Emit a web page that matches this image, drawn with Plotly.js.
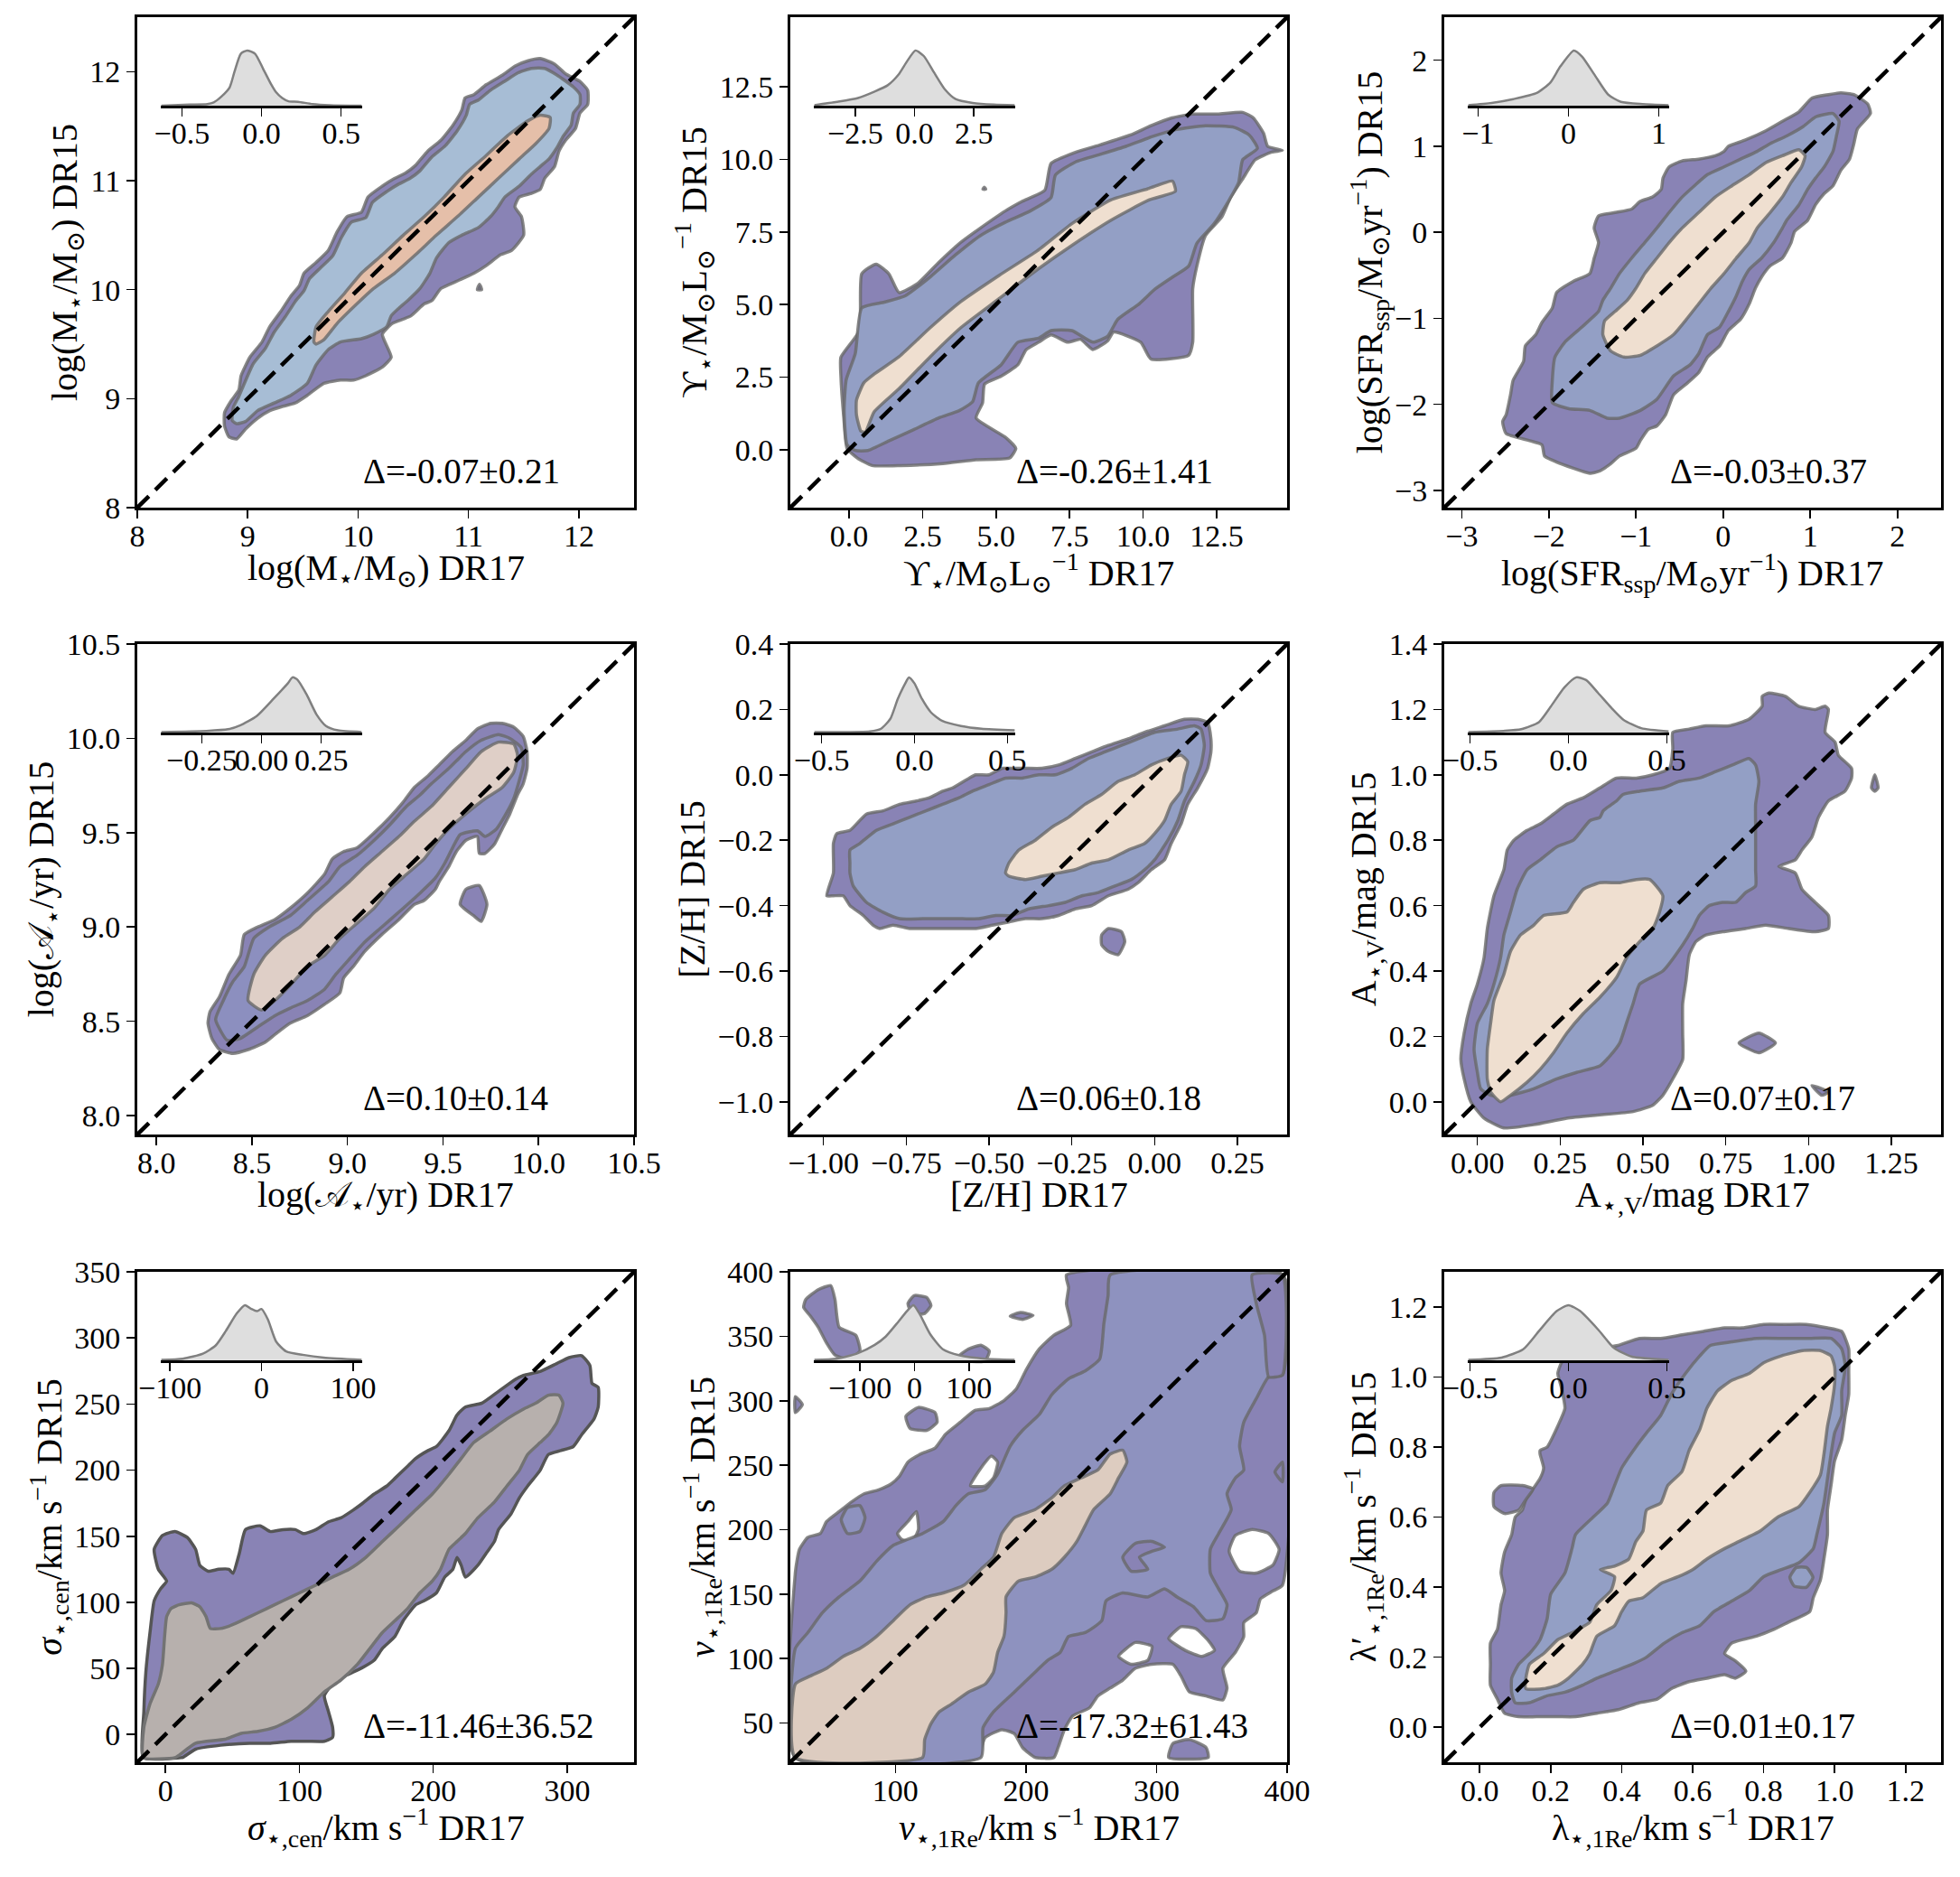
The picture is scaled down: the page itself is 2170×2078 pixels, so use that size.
<!DOCTYPE html>
<html>
<head>
<meta charset="utf-8">
<script src="https://cdn.plot.ly/plotly-3.0.1.min.js"></script>
<style>
  html, body { margin: 0; padding: 0; background: #ffffff; }
  #chart { width: 2170px; height: 2078px; }
</style>
</head>
<body>
<div id="chart"></div>
<script>
// DR15 vs DR17 comparison of nine Pipe3D quantities.
// Each panel: density contours (outer -> inner), 1:1 line, and an inset
// with the distribution of the DR15 - DR17 differences.

// ---------- mean and scatter of the differences ----------
const deltaMean = [-0.07, -0.26, -0.03, 0.10, 0.06, 0.07, -11.46, -17.32, 0.01];
const deltaStd  = [0.21, 1.41, 0.37, 0.14, 0.18, 0.17, 36.52, 61.43, 0.17];

// ---------- stellar mass ----------
const massOuter = [[8.79,8.75],[8.79,8.87],[8.85,8.98],[8.92,9.08],[8.94,9.21],[9.02,9.38],[9.13,9.52],[9.20,9.66],[9.30,9.80],[9.39,9.94],[9.47,10.04],[9.51,10.15],[9.62,10.25],[9.73,10.36],[9.81,10.53],[9.90,10.67],[10.03,10.71],[10.09,10.85],[10.22,10.95],[10.33,11.02],[10.43,11.07],[10.52,11.14],[10.63,11.27],[10.75,11.37],[10.86,11.51],[10.94,11.65],[10.97,11.76],[11.05,11.79],[11.16,11.88],[11.31,11.97],[11.42,12.05],[11.54,12.10],[11.65,12.12],[11.78,12.07],[11.88,11.98],[12.01,11.91],[12.08,11.83],[12.08,11.70],[12.01,11.62],[11.97,11.48],[11.88,11.37],[11.82,11.27],[11.78,11.13],[11.69,11.02],[11.65,10.92],[11.56,10.88],[11.46,10.85],[11.42,10.76],[11.48,10.67],[11.50,10.50],[11.39,10.36],[11.29,10.32],[11.16,10.22],[11.05,10.15],[10.90,10.08],[10.75,10.01],[10.67,9.90],[10.60,9.87],[10.48,9.76],[10.41,9.73],[10.31,9.69],[10.22,9.59],[10.30,9.38],[10.22,9.29],[10.07,9.21],[9.96,9.17],[9.84,9.17],[9.69,9.14],[9.54,9.03],[9.43,8.96],[9.32,8.93],[9.20,8.89],[9.09,8.82],[8.98,8.72],[8.90,8.63],[8.83,8.65]];
const massMiddle = [[8.86,8.80],[8.87,8.92],[8.92,9.02],[8.97,9.14],[9.05,9.32],[9.16,9.46],[9.24,9.61],[9.34,9.75],[9.43,9.89],[9.51,9.99],[9.56,10.10],[9.66,10.20],[9.77,10.31],[9.85,10.48],[9.94,10.62],[10.07,10.66],[10.13,10.80],[10.26,10.90],[10.37,10.97],[10.47,11.02],[10.56,11.09],[10.67,11.22],[10.79,11.32],[10.90,11.46],[10.98,11.60],[11.01,11.70],[11.09,11.74],[11.20,11.83],[11.34,11.92],[11.45,11.99],[11.57,12.03],[11.69,12.03],[11.80,11.97],[11.95,11.86],[12.01,11.79],[12.01,11.70],[11.95,11.62],[11.93,11.51],[11.86,11.41],[11.80,11.30],[11.73,11.20],[11.65,11.13],[11.57,11.06],[11.46,10.95],[11.33,10.85],[11.27,10.76],[11.20,10.67],[11.09,10.57],[10.94,10.50],[10.82,10.43],[10.71,10.29],[10.65,10.15],[10.56,10.01],[10.45,9.90],[10.37,9.83],[10.30,9.76],[10.26,9.66],[10.14,9.59],[10.03,9.55],[9.84,9.52],[9.73,9.45],[9.62,9.31],[9.54,9.14],[9.39,9.03],[9.24,8.96],[9.09,8.89],[8.98,8.79],[8.90,8.77]];
const massInner = [[9.60,9.52],[9.62,9.66],[9.73,9.80],[9.88,9.97],[10.03,10.15],[10.22,10.32],[10.41,10.50],[10.60,10.67],[10.78,10.85],[10.97,11.06],[11.16,11.23],[11.35,11.41],[11.54,11.55],[11.65,11.60],[11.74,11.58],[11.73,11.48],[11.61,11.34],[11.46,11.20],[11.27,11.02],[11.09,10.85],[10.90,10.67],[10.71,10.50],[10.52,10.32],[10.33,10.15],[10.14,10.01],[9.99,9.87],[9.81,9.69],[9.69,9.54],[9.62,9.50]];
const massIsland = [[11.08,10.00],[11.10,10.05],[11.12,10.00]];
const massKde = [[-0.63,0],[-0.45,0.02],[-0.34,0.03],[-0.30,0.06],[-0.25,0.17],[-0.20,0.33],[-0.17,0.61],[-0.13,0.94],[-0.09,1.0],[-0.04,0.94],[0.01,0.67],[0.06,0.39],[0.09,0.25],[0.13,0.14],[0.17,0.08],[0.23,0.07],[0.32,0.03],[0.43,0.01],[0.63,0]];

// ---------- mass-to-light ratio ----------
const mlOuter = [[-0.28,3.18],[0.35,4.10],[0.43,6.06],[0.92,6.39],[1.35,6.06],[1.70,5.41],[2.34,5.73],[3.05,6.45],[3.76,7.11],[4.46,7.63],[5.31,8.22],[5.88,8.55],[6.66,8.94],[6.87,9.86],[7.72,10.25],[8.57,10.51],[9.57,10.84],[10.27,11.16],[10.98,11.43],[11.69,11.56],[12.54,11.56],[13.39,11.62],[13.75,11.43],[14.10,10.90],[14.24,10.45],[14.74,10.31],[14.38,10.25],[13.82,9.99],[13.39,9.33],[12.97,8.68],[12.68,8.02],[12.12,7.37],[11.83,6.32],[11.69,5.54],[11.69,3.70],[11.55,3.25],[10.27,3.12],[9.92,3.70],[9.00,4.05],[8.80,3.75],[8.29,3.45],[7.87,3.80],[7.44,3.70],[6.87,3.95],[6.45,3.70],[6.02,3.44],[5.74,2.92],[5.17,2.53],[4.61,2.26],[4.54,1.61],[4.32,1.09],[5.31,0.43],[5.67,0.04],[5.46,-0.29],[4.32,-0.35],[3.19,-0.48],[1.77,-0.55],[0.78,-0.55],[0.28,-0.29],[-0.07,0.04],[-0.18,1.09],[-0.28,2.53]];
const mlMiddle = [[-0.07,0.17],[-0.17,1.35],[-0.10,2.40],[0.21,3.31],[0.43,4.88],[1.20,5.08],[1.91,5.30],[2.76,5.95],[3.61,6.70],[4.46,7.37],[5.31,7.83],[6.16,8.22],[6.87,8.68],[7.02,9.46],[7.72,9.92],[8.57,10.18],[9.42,10.45],[10.27,10.77],[11.13,11.03],[12.12,11.16],[13.11,11.10],[13.61,10.84],[13.89,10.38],[13.39,9.99],[13.25,9.20],[12.90,8.55],[12.40,7.76],[11.83,7.11],[11.55,6.32],[10.98,5.93],[10.42,5.54],[9.85,5.01],[9.14,4.49],[8.79,3.90],[8.29,3.70],[7.58,4.10],[6.87,4.10],[6.45,3.84],[5.74,3.70],[5.17,2.92],[4.40,2.30],[4.20,1.65],[3.76,1.35],[3.05,1.09],[2.20,0.69],[1.35,0.30],[0.64,-0.03],[0.21,-0.03]];
const mlInner = [[0.40,0.64],[0.25,1.20],[0.25,1.70],[0.50,2.30],[0.85,2.60],[1.70,3.20],[2.76,4.20],[3.80,5.10],[5.10,6.00],[6.40,6.85],[7.60,7.80],[8.90,8.60],[10.20,9.00],[11.00,9.25],[11.10,8.90],[10.20,8.60],[8.90,7.90],[7.60,7.05],[6.40,6.20],[5.10,5.20],[3.80,4.20],[2.76,3.20],[1.70,2.10],[0.85,1.30],[0.55,0.60]];
const mlIsland = [[4.55,8.97],[4.60,9.04],[4.65,8.97]];
const mlKde = [[-4.23,0.01],[-3.27,0.07],[-2.38,0.14],[-1.66,0.26],[-1.13,0.37],[-0.68,0.56],[-0.32,0.80],[0.04,1.0],[0.39,0.90],[0.84,0.59],[1.29,0.29],[1.73,0.12],[2.45,0.05],[3.34,0.02],[4.23,0.01]];

// ---------- star formation rate ----------
const sfrOuter = [[-1.53,-2.80],[-1.91,-2.67],[-2.05,-2.60],[-2.08,-2.47],[-2.49,-2.34],[-2.53,-2.20],[-2.49,-2.12],[-2.44,-1.89],[-2.41,-1.72],[-2.29,-1.50],[-2.27,-1.32],[-2.15,-1.19],[-2.08,-1.05],[-1.96,-0.88],[-1.91,-0.70],[-1.72,-0.57],[-1.53,-0.48],[-1.48,-0.30],[-1.43,-0.12],[-1.48,0.05],[-1.43,0.19],[-1.24,0.23],[-1.05,0.27],[-0.95,0.36],[-0.81,0.41],[-0.71,0.50],[-0.69,0.63],[-0.62,0.76],[-0.47,0.83],[-0.28,0.85],[-0.09,0.89],[0.01,0.94],[0.06,1.00],[0.25,1.07],[0.49,1.18],[0.68,1.29],[0.87,1.40],[1.02,1.56],[1.21,1.60],[1.35,1.62],[1.50,1.60],[1.66,1.49],[1.69,1.38],[1.54,1.20],[1.50,1.03],[1.45,0.85],[1.35,0.72],[1.26,0.54],[1.16,0.45],[1.06,0.32],[0.97,0.14],[0.82,0.01],[0.78,-0.12],[0.68,-0.30],[0.54,-0.39],[0.44,-0.52],[0.37,-0.65],[0.30,-0.83],[0.20,-1.01],[0.06,-1.14],[-0.04,-1.32],[-0.18,-1.45],[-0.28,-1.63],[-0.42,-1.76],[-0.57,-1.89],[-0.66,-2.12],[-0.76,-2.25],[-0.86,-2.29],[-0.95,-2.42],[-1.00,-2.51],[-1.19,-2.60],[-1.29,-2.69],[-1.43,-2.78]];
const sfrMiddle = [[-1.96,-1.98],[-1.96,-1.72],[-1.93,-1.45],[-1.81,-1.27],[-1.62,-1.10],[-1.43,-0.92],[-1.38,-0.79],[-1.29,-0.65],[-1.19,-0.48],[-1.05,-0.30],[-0.90,-0.12],[-0.76,0.05],[-0.62,0.23],[-0.47,0.41],[-0.33,0.54],[-0.18,0.67],[0.01,0.76],[0.20,0.85],[0.39,0.94],[0.54,1.03],[0.73,1.12],[0.92,1.23],[1.06,1.34],[1.26,1.38],[1.33,1.29],[1.30,1.12],[1.26,0.94],[1.16,0.76],[1.06,0.63],[0.97,0.50],[0.87,0.32],[0.73,0.14],[0.68,0.05],[0.58,-0.12],[0.44,-0.30],[0.30,-0.43],[0.22,-0.57],[0.15,-0.74],[0.06,-0.92],[-0.04,-1.10],[-0.18,-1.19],[-0.28,-1.41],[-0.38,-1.54],[-0.57,-1.67],[-0.76,-1.94],[-0.95,-2.07],[-1.19,-2.16],[-1.33,-2.16],[-1.53,-2.07],[-1.77,-2.05]];
const sfrInner = [[-1.38,-1.19],[-1.36,-1.03],[-1.24,-0.92],[-1.10,-0.79],[-1.00,-0.65],[-0.90,-0.48],[-0.76,-0.30],[-0.62,-0.12],[-0.47,0.05],[-0.28,0.23],[-0.09,0.41],[0.10,0.54],[0.30,0.67],[0.49,0.81],[0.68,0.89],[0.87,0.96],[0.94,0.89],[0.90,0.76],[0.78,0.58],[0.68,0.41],[0.54,0.23],[0.39,0.05],[0.30,-0.12],[0.15,-0.30],[0.01,-0.48],[-0.14,-0.65],[-0.28,-0.83],[-0.42,-1.01],[-0.57,-1.19],[-0.76,-1.32],[-0.95,-1.43],[-1.14,-1.45],[-1.29,-1.38]];
const sfrKde = [[-1.11,0.01],[-0.85,0.05],[-0.61,0.12],[-0.35,0.23],[-0.20,0.42],[-0.09,0.71],[0.06,1.0],[0.15,0.89],[0.30,0.53],[0.44,0.20],[0.58,0.07],[0.82,0.03],[1.11,0.01]];

// ---------- luminosity-weighted age ----------
const ageOuter = [[8.27,8.49],[8.28,8.55],[8.33,8.63],[8.38,8.75],[8.44,8.85],[8.46,8.96],[8.53,9.00],[8.62,9.04],[8.70,9.10],[8.79,9.18],[8.88,9.28],[8.92,9.36],[8.98,9.40],[9.05,9.42],[9.14,9.50],[9.22,9.58],[9.29,9.66],[9.35,9.74],[9.42,9.80],[9.48,9.86],[9.55,9.93],[9.62,9.99],[9.68,10.05],[9.75,10.08],[9.81,10.08],[9.87,10.06],[9.92,10.01],[9.94,9.93],[9.94,9.84],[9.92,9.76],[9.89,9.70],[9.85,9.60],[9.81,9.52],[9.77,9.44],[9.72,9.39],[9.69,9.39],[9.68,9.48],[9.62,9.46],[9.57,9.40],[9.53,9.32],[9.48,9.24],[9.46,9.20],[9.40,9.14],[9.35,9.12],[9.27,9.04],[9.18,8.96],[9.09,8.87],[9.03,8.79],[8.98,8.73],[8.96,8.65],[8.88,8.59],[8.79,8.53],[8.70,8.49],[8.62,8.43],[8.57,8.39],[8.48,8.35],[8.40,8.33],[8.33,8.35],[8.29,8.41]];
const ageMiddle = [[8.31,8.51],[8.35,8.61],[8.40,8.71],[8.46,8.79],[8.51,8.94],[8.59,9.00],[8.70,9.06],[8.79,9.14],[8.90,9.24],[8.96,9.32],[9.05,9.38],[9.14,9.46],[9.22,9.54],[9.31,9.64],[9.38,9.70],[9.44,9.76],[9.53,9.84],[9.62,9.93],[9.70,9.99],[9.79,10.02],[9.85,10.00],[9.91,9.95],[9.92,9.86],[9.90,9.78],[9.87,9.68],[9.83,9.60],[9.78,9.52],[9.72,9.48],[9.68,9.51],[9.59,9.49],[9.55,9.42],[9.51,9.34],[9.46,9.26],[9.38,9.18],[9.27,9.08],[9.18,9.00],[9.09,8.92],[9.01,8.83],[8.94,8.75],[8.88,8.67],[8.79,8.61],[8.70,8.57],[8.62,8.53],[8.53,8.47],[8.44,8.41],[8.37,8.40]];
const ageInner = [[8.48,8.61],[8.51,8.75],[8.57,8.85],[8.66,8.94],[8.75,9.00],[8.83,9.08],[8.92,9.16],[9.01,9.24],[9.09,9.32],[9.18,9.40],[9.27,9.48],[9.35,9.56],[9.44,9.64],[9.53,9.74],[9.62,9.84],[9.70,9.93],[9.79,9.98],[9.87,9.97],[9.89,9.91],[9.87,9.82],[9.81,9.74],[9.72,9.68],[9.62,9.60],[9.53,9.52],[9.46,9.44],[9.40,9.36],[9.31,9.28],[9.22,9.20],[9.14,9.10],[9.05,9.02],[8.96,8.94],[8.88,8.85],[8.79,8.79],[8.70,8.69],[8.62,8.61],[8.55,8.56]];
const ageIsland = [[9.59,9.12],[9.62,9.20],[9.69,9.22],[9.73,9.12],[9.70,9.03],[9.66,9.06]];
const ageKde = [[-0.42,0.01],[-0.23,0.03],[-0.14,0.06],[-0.09,0.13],[-0.02,0.30],[0.05,0.61],[0.11,0.89],[0.13,1.0],[0.15,0.96],[0.19,0.68],[0.23,0.33],[0.27,0.12],[0.32,0.04],[0.42,0.01]];

// ---------- metallicity ----------
const zhOuter = [[-0.99,-0.37],[-0.97,-0.30],[-0.97,-0.21],[-0.96,-0.18],[-0.92,-0.17],[-0.87,-0.12],[-0.82,-0.11],[-0.77,-0.09],[-0.72,-0.08],[-0.68,-0.07],[-0.64,-0.05],[-0.61,-0.04],[-0.56,-0.01],[-0.54,0.00],[-0.50,0.00],[-0.46,0.02],[-0.43,0.02],[-0.39,0.02],[-0.34,0.02],[-0.29,0.03],[-0.24,0.05],[-0.19,0.07],[-0.14,0.09],[-0.08,0.11],[-0.03,0.13],[0.03,0.15],[0.09,0.17],[0.13,0.17],[0.16,0.16],[0.17,0.11],[0.17,0.07],[0.16,0.02],[0.13,-0.04],[0.10,-0.09],[0.08,-0.15],[0.05,-0.21],[0.03,-0.26],[-0.01,-0.29],[-0.05,-0.33],[-0.08,-0.35],[-0.14,-0.37],[-0.19,-0.40],[-0.24,-0.41],[-0.29,-0.43],[-0.34,-0.44],[-0.39,-0.44],[-0.44,-0.45],[-0.49,-0.46],[-0.54,-0.47],[-0.59,-0.47],[-0.64,-0.47],[-0.69,-0.47],[-0.74,-0.47],[-0.79,-0.46],[-0.83,-0.47],[-0.85,-0.46],[-0.88,-0.43],[-0.92,-0.40],[-0.94,-0.37],[-0.97,-0.37]];
const zhMiddle = [[-0.92,-0.27],[-0.92,-0.23],[-0.89,-0.21],[-0.84,-0.17],[-0.79,-0.15],[-0.74,-0.13],[-0.69,-0.11],[-0.64,-0.09],[-0.59,-0.07],[-0.55,-0.05],[-0.50,-0.03],[-0.45,-0.01],[-0.40,-0.01],[-0.35,0.00],[-0.30,0.00],[-0.25,0.02],[-0.20,0.05],[-0.15,0.07],[-0.10,0.09],[-0.05,0.11],[0.00,0.13],[0.07,0.14],[0.12,0.15],[0.14,0.14],[0.15,0.09],[0.14,0.03],[0.12,-0.02],[0.09,-0.08],[0.07,-0.14],[0.04,-0.20],[0.00,-0.26],[-0.03,-0.29],[-0.07,-0.32],[-0.12,-0.34],[-0.17,-0.36],[-0.22,-0.37],[-0.27,-0.39],[-0.32,-0.40],[-0.38,-0.41],[-0.43,-0.43],[-0.48,-0.43],[-0.53,-0.44],[-0.58,-0.44],[-0.64,-0.44],[-0.70,-0.44],[-0.77,-0.44],[-0.82,-0.42],[-0.87,-0.39],[-0.91,-0.34],[-0.92,-0.30]];
const zhInner = [[-0.45,-0.30],[-0.44,-0.27],[-0.41,-0.23],[-0.36,-0.20],[-0.31,-0.16],[-0.26,-0.13],[-0.21,-0.09],[-0.16,-0.06],[-0.11,-0.02],[-0.06,0.00],[-0.01,0.03],[0.04,0.05],[0.08,0.06],[0.10,0.04],[0.09,0.00],[0.08,-0.05],[0.05,-0.09],[0.03,-0.14],[0.00,-0.18],[-0.03,-0.21],[-0.08,-0.23],[-0.14,-0.26],[-0.19,-0.27],[-0.24,-0.29],[-0.29,-0.30],[-0.34,-0.31],[-0.39,-0.32],[-0.44,-0.31]];
const zhIsland = [[-0.16,-0.49],[-0.14,-0.47],[-0.10,-0.48],[-0.09,-0.51],[-0.11,-0.55],[-0.14,-0.54],[-0.16,-0.52]];
const zhKde = [[-0.54,0.01],[-0.24,0.02],[-0.18,0.07],[-0.13,0.25],[-0.09,0.61],[-0.05,0.89],[-0.03,1.0],[0.00,0.89],[0.04,0.61],[0.09,0.36],[0.15,0.21],[0.25,0.12],[0.36,0.07],[0.54,0.04]];

// ---------- dust attenuation ----------
const avOuter = [[-0.04,0.07],[-0.05,0.13],[-0.04,0.21],[-0.02,0.30],[0.00,0.36],[0.02,0.44],[0.03,0.53],[0.05,0.63],[0.08,0.71],[0.09,0.77],[0.11,0.80],[0.15,0.83],[0.19,0.85],[0.23,0.88],[0.27,0.91],[0.32,0.93],[0.37,0.96],[0.42,0.99],[0.48,0.99],[0.53,1.00],[0.58,1.02],[0.59,1.08],[0.59,1.13],[0.64,1.14],[0.69,1.15],[0.76,1.15],[0.82,1.17],[0.86,1.21],[0.86,1.24],[0.88,1.25],[0.93,1.24],[0.97,1.21],[1.02,1.20],[1.05,1.21],[1.06,1.20],[1.05,1.13],[1.08,1.10],[1.09,1.06],[1.13,1.02],[1.13,0.99],[1.11,0.95],[1.06,0.92],[1.03,0.87],[1.01,0.81],[0.98,0.77],[0.96,0.74],[0.91,0.72],[0.96,0.70],[0.98,0.65],[1.02,0.61],[1.06,0.57],[1.06,0.53],[1.02,0.52],[0.94,0.53],[0.87,0.54],[0.81,0.53],[0.74,0.52],[0.69,0.51],[0.66,0.49],[0.64,0.45],[0.63,0.37],[0.62,0.30],[0.62,0.21],[0.62,0.13],[0.59,0.07],[0.56,0.02],[0.53,-0.01],[0.47,-0.03],[0.37,-0.04],[0.27,-0.05],[0.17,-0.07],[0.08,-0.08],[0.02,-0.05],[-0.02,0.00]];
const avMiddle = [[0.00,0.09],[-0.01,0.16],[0.00,0.24],[0.03,0.30],[0.05,0.36],[0.07,0.44],[0.08,0.51],[0.10,0.58],[0.12,0.65],[0.15,0.71],[0.19,0.74],[0.24,0.78],[0.29,0.80],[0.34,0.86],[0.37,0.87],[0.38,0.89],[0.42,0.92],[0.44,0.94],[0.49,0.95],[0.56,0.96],[0.61,0.98],[0.67,0.99],[0.72,1.01],[0.77,1.03],[0.82,1.05],[0.84,1.03],[0.85,0.98],[0.84,0.91],[0.84,0.84],[0.84,0.77],[0.84,0.71],[0.84,0.66],[0.81,0.64],[0.78,0.61],[0.74,0.61],[0.70,0.60],[0.67,0.57],[0.65,0.53],[0.62,0.48],[0.56,0.40],[0.49,0.36],[0.47,0.30],[0.45,0.24],[0.43,0.18],[0.40,0.14],[0.37,0.11],[0.30,0.09],[0.24,0.07],[0.17,0.04],[0.10,0.02],[0.04,0.02],[0.01,0.04]];
const avInner = [[0.04,0.03],[0.03,0.07],[0.03,0.16],[0.04,0.24],[0.05,0.31],[0.08,0.39],[0.10,0.46],[0.13,0.51],[0.17,0.54],[0.20,0.57],[0.27,0.58],[0.29,0.61],[0.32,0.65],[0.37,0.67],[0.43,0.67],[0.48,0.68],[0.52,0.68],[0.54,0.66],[0.56,0.63],[0.55,0.58],[0.53,0.53],[0.49,0.49],[0.45,0.44],[0.42,0.38],[0.37,0.32],[0.32,0.27],[0.27,0.21],[0.23,0.15],[0.19,0.10],[0.15,0.06],[0.10,0.02],[0.07,0.00]];
const avIslandA = [[0.79,0.18],[0.85,0.21],[0.90,0.18],[0.85,0.15]];
const avIslandB = [[1.01,0.05],[1.06,0.03],[1.04,0.02]];
const avIslandC = [[1.19,0.96],[1.20,1.00],[1.21,0.96],[1.20,0.95]];
const avKde = [[-0.51,0.01],[-0.33,0.03],[-0.24,0.06],[-0.15,0.19],[-0.09,0.47],[-0.02,0.82],[0.04,1.0],[0.09,0.95],[0.15,0.72],[0.22,0.44],[0.28,0.23],[0.37,0.08],[0.51,0.02]];

// ---------- central velocity dispersion ----------
const sigOuter = [[-16.5,-17.5],[-16.1,17.3],[-14.6,47.3],[-11.5,77.2],[-8.4,101.1],[-3.7,110.1],[0.9,116.1],[-5.3,125.0],[-8.4,140.0],[-2.2,150.5],[7.1,153.5],[16.4,149.0],[22.6,140.0],[25.7,128.0],[31.9,123.5],[39.7,125.0],[47.4,125.0],[50.5,122.0],[55.2,137.0],[59.8,155.0],[70.7,157.9],[78.4,153.5],[87.7,155.0],[97.0,155.0],[103.2,152.0],[112.5,155.0],[121.8,160.9],[131.1,163.9],[140.4,169.9],[146.6,174.4],[155.9,181.9],[165.2,187.9],[171.4,193.8],[180.7,202.8],[186.9,208.8],[196.2,214.8],[202.4,217.8],[211.7,229.7],[217.8,241.7],[224.0,247.7],[236.4,250.7],[248.8,259.6],[261.2,268.6],[267.4,271.6],[279.8,274.6],[292.2,280.6],[301.5,285.1],[310.8,286.6],[317.0,279.1],[318.6,265.6],[323.2,262.6],[323.2,247.7],[320.1,238.7],[310.8,226.7],[304.6,217.8],[295.3,214.8],[286.0,211.8],[279.8,199.8],[270.5,187.9],[264.3,178.9],[258.1,166.9],[248.8,155.0],[245.7,146.0],[239.5,137.0],[233.3,128.0],[224.0,119.1],[220.9,128.0],[217.8,134.0],[214.7,125.0],[208.6,119.1],[202.4,107.1],[193.1,101.1],[186.9,98.1],[177.6,86.1],[171.4,74.2],[162.1,65.2],[155.9,56.2],[146.6,50.3],[134.2,44.3],[124.9,38.3],[118.7,29.3],[121.8,17.3],[124.9,5.4],[124.9,-2.1],[118.7,-5.1],[106.3,-5.1],[93.9,-5.1],[78.4,-6.6],[62.9,-6.6],[41.2,-8.1],[22.6,-11.1],[13.3,-17.1],[11.8,-17.5]];
const sigInner = [[-16.1,5.4],[-11.5,23.3],[-5.3,38.3],[-2.2,53.2],[-0.6,74.2],[0.9,89.1],[4.0,95.1],[10.2,98.1],[19.5,99.6],[25.7,96.6],[30.4,89.1],[33.5,80.2],[41.2,80.2],[50.5,83.2],[62.9,89.1],[75.3,95.1],[87.7,101.1],[100.1,107.1],[112.5,113.1],[124.9,119.1],[137.3,125.0],[149.7,134.0],[162.1,146.0],[174.5,157.9],[186.9,169.9],[199.3,181.9],[211.7,196.8],[220.9,208.8],[230.2,220.8],[242.6,229.7],[255.0,238.7],[267.4,246.2],[276.7,250.7],[286.0,256.7],[293.8,256.7],[296.9,250.7],[292.2,235.7],[286.0,226.7],[279.8,220.8],[270.5,211.8],[264.3,199.8],[255.0,187.9],[245.7,175.9],[233.3,163.9],[224.0,152.0],[217.8,146.0],[211.7,140.0],[205.5,125.0],[199.3,116.1],[190.0,107.1],[180.7,95.1],[171.4,86.1],[162.1,77.2],[152.8,65.2],[143.5,53.2],[131.1,41.3],[118.7,32.3],[106.3,20.3],[93.9,11.4],[81.5,5.4],[69.1,2.4],[56.7,0.9],[44.3,-3.6],[22.6,-6.6],[10.2,-15.6],[7.1,-17.5],[-16.5,-17.5]];
const sigKde = [[-109.6,0.01],[-86,0.03],[-64,0.12],[-50,0.27],[-39,0.53],[-27,0.85],[-18,1.0],[-11,0.93],[-5,0.89],[0,0.93],[7,0.74],[16,0.34],[27,0.16],[45,0.10],[68,0.05],[109.6,0.01]];

// ---------- rotation velocity at 1 Re ----------
const velOuter = [[231.0,397.6],[396.5,397.6],[396.5,157.0],[389.1,152.4],[379.6,146.3],[376.4,135.5],[366.8,127.8],[366.8,117.1],[360.4,104.8],[350.8,92.4],[354.0,77.1],[350.8,67.8],[338.0,70.9],[325.2,74.0],[318.8,86.3],[312.5,95.5],[296.5,95.5],[283.7,92.4],[274.1,83.2],[264.5,77.1],[255.0,70.9],[248.6,61.7],[235.8,55.5],[229.4,44.8],[224.6,30.9],[221.4,23.2],[207.0,23.2],[197.4,30.9],[191.1,41.7],[181.5,44.8],[168.7,38.6],[162.3,23.2],[23.3,23.2],[23.3,166.3],[26.5,184.7],[32.9,194.0],[42.5,197.0],[47.3,206.3],[56.9,214.0],[66.5,221.6],[76.0,227.8],[87.2,230.9],[96.8,235.5],[103.2,241.6],[109.6,252.4],[119.2,258.6],[130.4,263.2],[138.3,273.9],[149.5,283.2],[160.7,292.4],[171.9,293.9],[183.1,300.1],[192.7,309.3],[200.6,324.7],[210.2,340.1],[221.4,350.8],[234.2,358.5],[231.0,375.4],[232.6,387.7]];
const velBlobA = [[29.7,372.4],[31.3,378.5],[40.9,386.2],[50.5,389.3],[53.7,378.5],[56.9,357.0],[69.6,350.8],[72.8,338.5],[63.3,332.4],[53.7,335.4],[47.3,344.7],[40.9,357.0],[34.5,366.2]];
const velBlobB = [[109.6,375.4],[114.4,381.6],[124.0,380.1],[127.2,373.9],[122.4,367.7],[112.8,367.7]];
const velBlobC = [[147.9,333.9],[155.9,340.1],[165.5,343.1],[171.9,338.5],[168.7,330.8],[155.9,330.8]];
const velBlobD = [[187.9,365.6],[195.8,368.4],[205.4,366.2],[197.4,363.1]];
const velBlobE = [[108.0,287.8],[117.6,294.8],[130.4,290.8],[131.9,283.2],[124.0,277.0],[111.2,278.5]];
const velBlobF = [[23.3,303.2],[28.7,297.0],[23.3,290.8]];
const velBlobG = [[309.3,23.2],[312.5,34.0],[325.2,37.1],[338.0,30.9],[339.6,23.2]];
const velBlobH = [[396.5,252.4],[390.7,244.7],[396.5,237.0]];
const velHoleA = [[157.5,234.0],[165.5,247.8],[173.5,257.0],[178.3,252.4],[175.1,240.1],[168.7,233.9]];
const velHoleB = [[101.6,197.0],[109.6,206.3],[116.0,214.0],[117.6,200.1],[112.8,190.9],[104.8,192.4]];
const velHoleC = [[309.3,115.5],[318.8,124.7],[330.0,123.2],[339.6,114.0],[344.4,106.3],[334.8,101.7],[322.0,106.3]];
const velHoleD = [[355.6,183.2],[360.4,195.5],[373.2,200.1],[385.9,197.0],[393.9,184.7],[389.1,172.4],[376.4,166.3],[363.6,167.8]];
const velHoleE = [[270.9,101.7],[283.7,112.4],[296.5,109.4],[293.3,98.6],[280.5,95.5]];
const velMiddle = [[23.3,107.8],[32.9,120.1],[44.1,135.5],[56.9,147.8],[72.8,160.1],[85.6,175.5],[98.4,187.8],[120.8,197.0],[136.7,206.3],[146.3,218.6],[155.9,227.8],[168.7,230.9],[178.3,243.2],[187.9,264.7],[197.4,277.0],[210.2,289.3],[219.8,304.7],[232.6,317.0],[245.4,323.1],[256.5,332.4],[259.7,360.1],[262.9,381.6],[264.5,397.6],[396.5,397.6],[396.5,320.1],[385.9,318.5],[376.4,301.6],[366.8,283.2],[363.6,264.7],[366.8,246.2],[360.4,240.1],[354.0,227.8],[357.2,215.5],[347.6,197.0],[341.2,184.7],[341.2,166.3],[347.6,154.0],[354.0,141.7],[350.8,130.9],[338.0,129.4],[328.4,140.1],[315.7,147.8],[306.1,154.0],[293.3,147.8],[274.1,150.9],[261.3,144.7],[258.1,129.4],[245.4,120.1],[232.6,117.1],[226.2,104.8],[216.6,98.6],[207.0,89.4],[191.1,74.0],[175.1,58.6],[167.1,46.3],[165.5,23.2],[23.3,23.2]];
const velRing = [[58.5,207.8],[63.3,217.0],[72.8,218.6],[76.7,209.3],[72.8,198.6],[63.3,197.0]];
const velCrescent = [[274.1,178.6],[283.7,189.3],[296.5,190.9],[306.1,186.3],[296.5,183.2],[286.9,178.6],[293.3,169.3],[280.5,167.8]];
const velCorner = [[373.2,397.6],[396.5,397.6],[396.5,320.1],[385.9,318.5],[382.7,350.8],[376.4,375.4]];
const velInner = [[23.3,80.1],[34.5,86.3],[47.3,92.4],[60.1,101.7],[72.8,107.8],[85.6,117.1],[98.4,129.4],[111.2,141.7],[124.0,147.8],[136.7,150.9],[152.7,157.0],[165.5,169.3],[175.1,178.6],[181.5,197.0],[191.1,209.3],[207.0,215.5],[219.8,224.7],[229.4,233.9],[242.2,240.1],[255.0,246.2],[264.5,258.6],[274.1,261.6],[277.3,252.4],[270.9,240.1],[264.5,227.8],[251.8,215.5],[245.4,203.2],[239.0,190.9],[229.4,178.6],[219.8,169.3],[207.0,163.2],[194.2,160.1],[184.7,147.8],[184.7,135.5],[183.1,117.1],[178.3,104.8],[175.1,89.4],[168.7,80.1],[155.9,74.0],[143.1,64.8],[133.5,58.6],[127.2,49.4],[122.4,37.1],[120.8,23.2],[23.3,23.2]];
const velKde = [[-184.3,0.01],[-143,0.03],[-104,0.13],[-73,0.28],[-53,0.43],[-33,0.66],[-14,0.89],[-2,1.0],[9,0.85],[29,0.47],[52,0.20],[83,0.09],[129,0.03],[184.3,0.01]];

// ---------- spin parameter at 1 Re ----------
const lamOuter = [[0.07,0.04],[0.05,0.08],[0.03,0.12],[0.03,0.18],[0.03,0.24],[0.05,0.28],[0.06,0.35],[0.07,0.39],[0.06,0.44],[0.07,0.50],[0.09,0.55],[0.10,0.60],[0.12,0.62],[0.13,0.65],[0.17,0.71],[0.18,0.74],[0.17,0.78],[0.17,0.79],[0.19,0.80],[0.22,0.86],[0.24,0.91],[0.23,0.97],[0.22,1.01],[0.23,1.04],[0.25,1.06],[0.27,1.07],[0.33,1.08],[0.39,1.09],[0.45,1.11],[0.51,1.11],[0.57,1.12],[0.63,1.13],[0.69,1.14],[0.74,1.14],[0.80,1.15],[0.86,1.15],[0.92,1.15],[0.98,1.14],[1.02,1.13],[1.04,1.08],[1.04,1.02],[1.04,0.95],[1.03,0.89],[1.02,0.82],[1.00,0.76],[0.99,0.69],[0.98,0.62],[0.98,0.55],[0.97,0.48],[0.96,0.42],[0.94,0.37],[0.93,0.33],[0.87,0.30],[0.83,0.28],[0.78,0.26],[0.71,0.24],[0.69,0.21],[0.72,0.19],[0.75,0.16],[0.72,0.14],[0.69,0.15],[0.64,0.14],[0.59,0.13],[0.54,0.11],[0.50,0.08],[0.45,0.07],[0.39,0.05],[0.33,0.04],[0.27,0.03],[0.22,0.03],[0.16,0.03],[0.11,0.03]];
const lamMiddle = [[0.10,0.07],[0.09,0.10],[0.09,0.14],[0.11,0.18],[0.14,0.21],[0.17,0.25],[0.19,0.31],[0.20,0.38],[0.24,0.44],[0.26,0.51],[0.27,0.55],[0.32,0.60],[0.36,0.64],[0.38,0.69],[0.40,0.74],[0.44,0.80],[0.47,0.84],[0.51,0.89],[0.54,0.95],[0.58,1.01],[0.62,1.06],[0.65,1.09],[0.71,1.10],[0.78,1.11],[0.86,1.11],[0.93,1.11],[0.99,1.11],[1.02,1.08],[1.03,1.03],[1.02,0.96],[1.02,0.89],[1.00,0.84],[0.99,0.78],[0.98,0.71],[0.97,0.64],[0.95,0.55],[0.94,0.51],[0.90,0.47],[0.85,0.45],[0.80,0.43],[0.76,0.39],[0.71,0.36],[0.66,0.33],[0.62,0.29],[0.57,0.27],[0.52,0.24],[0.47,0.20],[0.43,0.18],[0.38,0.16],[0.33,0.14],[0.29,0.12],[0.24,0.10],[0.19,0.09],[0.14,0.07]];
const lamInner = [[0.13,0.11],[0.13,0.14],[0.14,0.18],[0.18,0.21],[0.22,0.25],[0.26,0.27],[0.31,0.30],[0.33,0.35],[0.37,0.39],[0.38,0.43],[0.34,0.45],[0.38,0.46],[0.42,0.48],[0.44,0.53],[0.46,0.56],[0.47,0.62],[0.51,0.64],[0.53,0.69],[0.57,0.73],[0.59,0.79],[0.62,0.85],[0.64,0.91],[0.67,0.96],[0.71,0.99],[0.76,1.01],[0.80,1.04],[0.85,1.06],[0.91,1.075],[0.96,1.075],[0.99,1.06],[1.00,1.03],[1.00,0.98],[0.99,0.91],[0.98,0.86],[0.97,0.78],[0.96,0.72],[0.93,0.67],[0.90,0.63],[0.84,0.60],[0.79,0.56],[0.73,0.53],[0.69,0.51],[0.64,0.48],[0.60,0.45],[0.56,0.43],[0.51,0.41],[0.46,0.37],[0.42,0.36],[0.40,0.33],[0.38,0.29],[0.33,0.26],[0.31,0.21],[0.29,0.18],[0.25,0.14],[0.22,0.12],[0.18,0.11]];
const lamBlob = [[0.04,0.67],[0.06,0.69],[0.12,0.69],[0.15,0.68],[0.13,0.65],[0.11,0.62],[0.07,0.61],[0.04,0.63]];
const lamRing = [[0.874,0.428],[0.892,0.456],[0.921,0.456],[0.939,0.428],[0.921,0.400],[0.886,0.403]];
const lamKde = [[-0.51,0.01],[-0.34,0.05],[-0.23,0.20],[-0.15,0.53],[-0.06,0.89],[0.00,1.0],[0.06,0.89],[0.15,0.56],[0.23,0.23],[0.32,0.07],[0.51,0.01]];

// ---------- styling ----------
const C = {
  purple: '#8983b5', blue: '#939fc5', steel: '#a7bdd5', salmon: '#e5bfa9',
  peach: '#efdfd0', ageBand: '#8c8fbf', ageCore: '#dfcfc7', sigCore: '#b7b0ad',
  velBlue: '#8e92bf', velCore: '#ddccc0', white: '#ffffff'
};
const EDGE = 'rgba(105,105,105,0.8)';
const FONT = 'Liberation Serif, DejaVu Serif, serif';
const TICK_SIZE = 34, TITLE_SIZE = 40, NOTE_SIZE = 39;

const panels = [
  { range: [8, 12.5], xt: [8, 9, 10, 11, 12], yt: [8, 9, 10, 11, 12], xf: 'd', yf: 'd',
    xlab: 'log(M<sub>⋆</sub>/M<sub>⊙</sub>) DR17', ylab: 'log(M<sub>⋆</sub>/M<sub>⊙</sub>) DR15',
    layers: [[massOuter, C.purple], [massMiddle, C.steel], [massInner, C.salmon], [massIsland, C.purple]],
    kde: massKde, kt: [-0.5, 0, 0.5], kf: '.1f' },
  { range: [-2, 14.9], xt: [0, 2.5, 5, 7.5, 10, 12.5], yt: [0, 2.5, 5, 7.5, 10, 12.5], xf: '.1f', yf: '.1f',
    xlab: 'ϒ<sub>⋆</sub>/M<sub>⊙</sub>L<sub>⊙</sub><sup>−1</sup> DR17', ylab: 'ϒ<sub>⋆</sub>/M<sub>⊙</sub>L<sub>⊙</sub><sup>−1</sup> DR15',
    layers: [[mlOuter, C.purple], [mlMiddle, C.blue], [mlInner, C.peach], [mlIsland, C.purple]],
    kde: mlKde, kt: [-2.5, 0, 2.5], kf: '.1f' },
  { range: [-3.2, 2.5], xt: [-3, -2, -1, 0, 1, 2], yt: [-3, -2, -1, 0, 1, 2], xf: 'd', yf: 'd',
    xlab: 'log(SFR<sub>ssp</sub>/M<sub>⊙</sub>yr<sup>−1</sup>) DR17', ylab: 'log(SFR<sub>ssp</sub>/M<sub>⊙</sub>yr<sup>−1</sup>) DR15',
    layers: [[sfrOuter, C.purple], [sfrMiddle, C.blue], [sfrInner, C.peach]],
    kde: sfrKde, kt: [-1, 0, 1], kf: 'd' },
  { range: [7.9, 10.5], xt: [8, 8.5, 9, 9.5, 10, 10.5], yt: [8, 8.5, 9, 9.5, 10, 10.5], xf: '.1f', yf: '.1f',
    xlab: 'log(𝒜<sub>⋆</sub>/yr) DR17', ylab: 'log(𝒜<sub>⋆</sub>/yr) DR15',
    layers: [[ageOuter, C.purple], [ageIsland, C.purple], [ageMiddle, C.ageBand], [ageInner, C.ageCore]],
    kde: ageKde, kt: [-0.25, 0, 0.25], kf: '.2f' },
  { range: [-1.1, 0.4], xt: [-1, -0.75, -0.5, -0.25, 0, 0.25], yt: [-1, -0.8, -0.6, -0.4, -0.2, 0, 0.2, 0.4], xf: '.2f', yf: '.1f',
    xlab: '[Z/H] DR17', ylab: '[Z/H] DR15',
    layers: [[zhOuter, C.purple], [zhIsland, C.purple], [zhMiddle, C.blue], [zhInner, C.peach]],
    kde: zhKde, kt: [-0.5, 0, 0.5], kf: '.1f' },
  { range: [-0.1, 1.4], xt: [0, 0.25, 0.5, 0.75, 1, 1.25], yt: [0, 0.2, 0.4, 0.6, 0.8, 1, 1.2, 1.4], xf: '.2f', yf: '.1f',
    xlab: 'A<sub>⋆,V</sub>/mag DR17', ylab: 'A<sub>⋆,V</sub>/mag DR15',
    layers: [[avOuter, C.purple], [avIslandA, C.purple], [avIslandB, C.purple], [avIslandC, C.purple], [avMiddle, C.blue], [avInner, C.peach]],
    kde: avKde, kt: [-0.5, 0, 0.5], kf: '.1f' },
  { range: [-21, 350], xt: [0, 100, 200, 300], yt: [0, 50, 100, 150, 200, 250, 300, 350], xf: 'd', yf: 'd',
    xlab: '<i>σ</i><sub>⋆,cen</sub>/km s<sup>−1</sup> DR17', ylab: '<i>σ</i><sub>⋆,cen</sub>/km s<sup>−1</sup> DR15',
    layers: [[sigOuter, C.purple, 'rgb(85,85,85)'], [sigInner, C.sigCore, 'rgb(115,115,115)']],
    kde: sigKde, kt: [-100, 0, 100], kf: 'd' },
  { range: [19.5, 400], xt: [100, 200, 300, 400], yt: [50, 100, 150, 200, 250, 300, 350, 400], xf: 'd', yf: 'd',
    xlab: '<i>v</i><sub>⋆,1Re</sub>/km s<sup>−1</sup> DR17', ylab: '<i>v</i><sub>⋆,1Re</sub>/km s<sup>−1</sup> DR15',
    layers: [[velOuter, C.purple], [velBlobA, C.purple], [velBlobB, C.purple], [velBlobC, C.purple], [velBlobD, C.purple],
             [velBlobE, C.purple], [velBlobF, C.purple], [velBlobG, C.purple], [velBlobH, C.purple],
             [velHoleA, C.white], [velHoleB, C.white], [velHoleC, C.white], [velHoleD, C.white], [velHoleE, C.white],
             [velMiddle, C.velBlue], [velRing, C.velBlue], [velCrescent, C.purple], [velCorner, C.purple], [velInner, C.velCore]],
    kde: velKde, kt: [-100, 0, 100], kf: 'd' },
  { range: [-0.1, 1.3], xt: [0, 0.2, 0.4, 0.6, 0.8, 1, 1.2], yt: [0, 0.2, 0.4, 0.6, 0.8, 1, 1.2], xf: '.1f', yf: '.1f',
    xlab: 'λ<sub>⋆,1Re</sub>/km s<sup>−1</sup> DR17', ylab: 'λ′<sub>⋆,1Re</sub>/km s<sup>−1</sup> DR15',
    layers: [[lamOuter, C.purple], [lamBlob, C.purple], [lamMiddle, C.blue], [lamRing, C.blue], [lamInner, C.peach]],
    kde: lamKde, kt: [-0.5, 0, 0.5], kf: '.1f' }
];

// ---------- page geometry (pixels) ----------
const W = 2170, H = 2078;
const colLeft = [152, 875, 1599], rowTop = [19, 713, 1408];
const PW = 550, PH = 543;

const traces = [];
const layout = {
  width: W, height: H,
  margin: { l: 0, r: 0, t: 0, b: 0 },
  paper_bgcolor: '#ffffff', plot_bgcolor: 'rgba(0,0,0,0)',
  showlegend: false,
  font: { family: FONT, color: '#000000', size: TICK_SIZE },
  annotations: []
};

function polygon(pts, xa, ya, fill, edge) {
  const xs = pts.map(p => p[0]), ys = pts.map(p => p[1]);
  xs.push(xs[0]); ys.push(ys[0]);
  return {
    type: 'scatter', mode: 'lines', x: xs, y: ys, xaxis: xa, yaxis: ya,
    fill: 'toself', fillcolor: fill,
    line: { color: edge || EDGE, width: 3.5, shape: 'spline', smoothing: 0.5 },
    hoverinfo: 'skip'
  };
}

panels.forEach((p, i) => {
  const col = i % 3, row = Math.floor(i / 3);
  const left = colLeft[col], top = rowTop[row];
  const sfx = i === 0 ? '' : String(i + 1);
  const xa = 'x' + sfx, ya = 'y' + sfx;
  const span = p.range[1] - p.range[0];
  const rng = [p.range[0] - 1e-6 * span, p.range[1] + 1e-6 * span];

  const axisCommon = {
    range: rng, showgrid: false, zeroline: false,
    showline: true, linecolor: '#000000', linewidth: 3, mirror: true,
    ticks: 'outside', ticklen: 9, tickwidth: 1.6, tickcolor: '#000000',
    tickangle: 0, tickfont: { size: TICK_SIZE, family: FONT }, automargin: false
  };
  layout['xaxis' + sfx] = Object.assign({}, axisCommon, {
    domain: [left / W, (left + PW) / W], anchor: ya,
    tickvals: p.xt, tickformat: p.xf, ticklabelstandoff: -10
  });
  layout['yaxis' + sfx] = Object.assign({}, axisCommon, {
    domain: [1 - (top + PH) / H, 1 - top / H], anchor: xa,
    tickvals: p.yt, tickformat: p.yf,
    title: { text: p.ylab, font: { size: TITLE_SIZE, family: FONT }, standoff: 2 }
  });

  // x-axis label, hung below the tick labels
  layout.annotations.push({
    xref: xa + ' domain', yref: ya + ' domain', x: 0.5, y: 0,
    xanchor: 'center', yanchor: 'top', yshift: -42, showarrow: false,
    text: p.xlab, font: { size: TITLE_SIZE, family: FONT, color: '#000000' }
  });

  // filled density contours, outermost first
  p.layers.forEach(l => traces.push(polygon(l[0], xa, ya, l[1], l[2])));

  // one-to-one line
  traces.push({
    type: 'scatter', mode: 'lines', x: p.range, y: p.range, xaxis: xa, yaxis: ya,
    line: { color: '#000000', width: 4.5, dash: '18px,10px' }, hoverinfo: 'skip'
  });

  // mean offset and scatter
  layout.annotations.push({
    xref: xa + ' domain', yref: ya + ' domain', x: 0.45, y: 0.075,
    xanchor: 'left', yanchor: 'middle', showarrow: false,
    text: 'Δ=' + deltaMean[i].toFixed(2) + '±' + deltaStd[i].toFixed(2),
    font: { size: NOTE_SIZE, family: FONT, color: '#000000' }
  });

  // inset: distribution of the differences
  const isfx = String(i + 10);
  const base = top + 98;
  const lim = 3 * deltaStd[i];
  layout['xaxis' + isfx] = {
    domain: [(left + 0.048 * PW) / W, (left + 0.452 * PW) / W], anchor: 'y' + isfx,
    range: [-lim, lim], showgrid: false, zeroline: false,
    showline: true, linecolor: '#000000', linewidth: 2.6,
    ticks: 'outside', ticklen: 9, tickwidth: 1.6, tickcolor: '#000000', tickangle: 0,
    tickvals: p.kt, tickformat: p.kf, tickfont: { size: TICK_SIZE, family: FONT },
    ticklabelstandoff: -10, automargin: false
  };
  layout['yaxis' + isfx] = {
    domain: [1 - base / H, 1 - (base - 66) / H], anchor: 'x' + isfx,
    range: [0, 1.08], visible: false, showgrid: false, zeroline: false
  };
  traces.push({
    type: 'scatter', mode: 'lines',
    x: p.kde.map(d => d[0]), y: p.kde.map(d => d[1]),
    xaxis: 'x' + isfx, yaxis: 'y' + isfx,
    fill: 'tozeroy', fillcolor: '#dedede',
    line: { color: '#808080', width: 2.5, shape: 'spline', smoothing: 0.6 },
    hoverinfo: 'skip'
  });
});

Plotly.newPlot('chart', traces, layout, { staticPlot: true, displayModeBar: false });
</script>
</body>
</html>
